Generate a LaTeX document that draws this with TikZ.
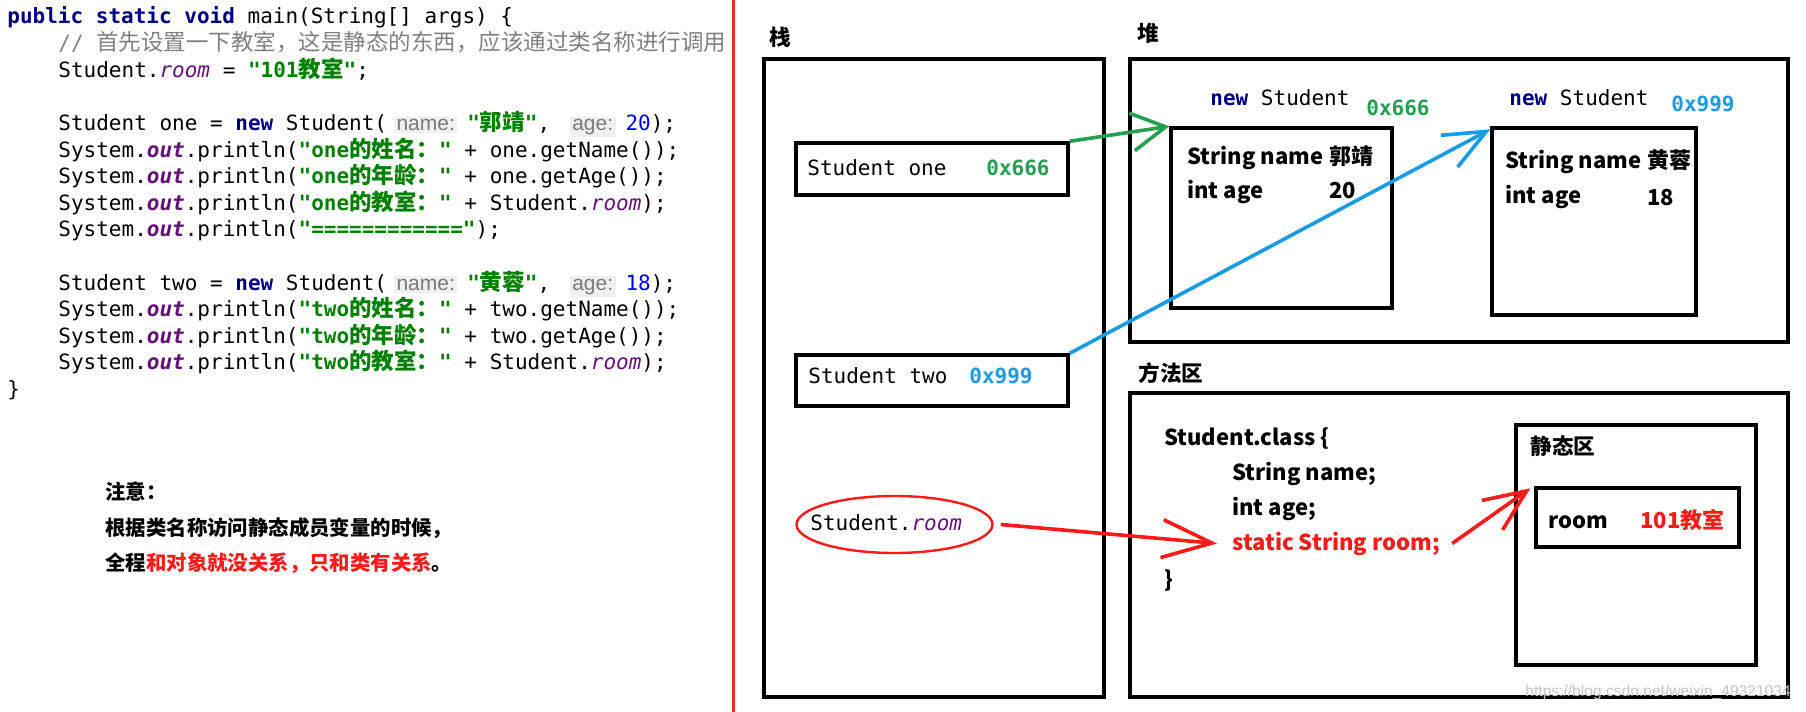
\documentclass[tikz,border=0pt]{standalone}
\usepackage{fontspec}
\setmonofont{DejaVu Sans Mono}
\newfontfamily\cjk{Noto Sans CJK SC}
\newfontfamily\hintfont{Liberation Sans}
\usetikzlibrary{arrows.meta,shapes.geometric}

\definecolor{kwnavy}{HTML}{000080}
\definecolor{strgreen}{HTML}{008000}
\definecolor{numblue}{HTML}{0000FF}
\definecolor{fieldpurple}{HTML}{660E7A}
\definecolor{commentgray}{HTML}{808080}
\definecolor{hintgray}{HTML}{7A7A7A}
\definecolor{hintbg}{HTML}{EFEFEF}
\definecolor{addrgreen}{HTML}{25A052}
\definecolor{addrblue}{HTML}{1A9BE6}
\definecolor{notered}{HTML}{FF1A1A}
\definecolor{sepred}{HTML}{EE2A2A}
\definecolor{wmgray}{HTML}{C4C4C4}

\newcommand\zhs[1]{{\cjk\fontsize{11.25}{13}\selectfont #1}}
\newcommand\jkw[1]{\textcolor{kwnavy}{\bfseries #1}}
\newcommand\jstr[1]{\textcolor{strgreen}{\bfseries #1}}
\newcommand\jnum[1]{\textcolor{numblue}{#1}}
\newcommand\jfield[1]{\textcolor{fieldpurple}{\itshape #1}}
\newcommand\jout[1]{\textcolor{fieldpurple}{\bfseries\itshape #1}}
\newcommand\jhint[1]{\hspace{3.5pt}{\setlength{\fboxsep}{1.2pt}\colorbox{hintbg}{\hintfont\fontsize{10.5}{12}\selectfont\textcolor{hintgray}{#1}}}\hspace{5pt}}

\tikzset{
    code/.style = {anchor = base west, inner sep = 0pt, font = \ttfamily\fontsize{10.5}{13}\selectfont},
    region/.style = {draw, line width = 1.7pt, inner sep = 0pt},
    areaname/.style = {anchor = west, inner sep = 0pt, font = \cjk\bfseries\fontsize{10.8}{13}\selectfont},
    field/.style = {anchor = base west, inner sep = 0pt, font = \cjk\bfseries\fontsize{11}{13}\selectfont},
    note/.style = {anchor = base west, inner sep = 0pt, font = \cjk\bfseries\fontsize{10.2}{12}\selectfont},
    ptr/.style = {line width = 1.8pt, -{Straight Barb[length = 21pt, width = 18pt]}}
}

\begin{document}
\begin{tikzpicture}[x = 0.5pt, y = -0.5pt]
    \fill[white] (0,0) rectangle (1806,712);
    \useasboundingbox (0,0) rectangle (1806,712);

    % source code on the left
    \node (l1) at (7,24) [code] {\jkw{public static void} main(String[] args) \{};
    \node (l2) at (58,50.6) [code] {\textcolor{commentgray}{// \zhs{首先设置一下教室，这是静态的东西，应该通过类名称进行调用}}};
    \node (l3) at (58,77.2) [code] {Student.\jfield{room} = \jstr{"101\zhs{教室}"};};
    \node (l5) at (58,130.4) [code] {Student one = \jkw{new} Student(\jhint{name:}\jstr{"\zhs{郭靖}"}, \jhint{age:}\jnum{20});};
    \node (l6) at (58,157) [code] {System.\jout{out}.println(\jstr{"one\zhs{的姓名：}"} + one.getName());};
    \node (l7) at (58,183.6) [code] {System.\jout{out}.println(\jstr{"one\zhs{的年龄：}"} + one.getAge());};
    \node (l8) at (58,210.2) [code] {System.\jout{out}.println(\jstr{"one\zhs{的教室：}"} + Student.\jfield{room});};
    \node (l9) at (58,236.8) [code] {System.\jout{out}.println(\jstr{"============"});};
    \node (l11) at (58,290) [code] {Student two = \jkw{new} Student(\jhint{name:}\jstr{"\zhs{黄蓉}"}, \jhint{age:}\jnum{18});};
    \node (l12) at (58,316.6) [code] {System.\jout{out}.println(\jstr{"two\zhs{的姓名：}"} + two.getName());};
    \node (l13) at (58,343.2) [code] {System.\jout{out}.println(\jstr{"two\zhs{的年龄：}"} + two.getAge());};
    \node (l14) at (58,369.8) [code] {System.\jout{out}.println(\jstr{"two\zhs{的教室：}"} + Student.\jfield{room});};
    \node (l15) at (7,396.4) [code] {\}};

    \node (n1) at (105,499) [note] {注意：};
    \node (n2) at (105,535) [note] {根据类名称访问静态成员变量的时候，};
    \node (n3) at (105,570) [note] {全程\textcolor{notered}{和对象就没关系，只和类有关系}。};

    \draw[sepred, line width = 1.5pt] (733,0) -- (733,712);

    % memory areas
    \node (stackname) at (769,37) [areaname] {栈};
    \node (heapname) at (1137,33) [areaname] {堆};
    \node (methodname) at (1138,373) [areaname] {方法区};

    \node (stack) at (934,378) [region, minimum width = 170pt, minimum height = 319pt] {};
    \node (heap) at (1459,200.5) [region, minimum width = 329pt, minimum height = 141.5pt] {};
    \node (method) at (1459,545) [region, minimum width = 329pt, minimum height = 152pt] {};

    % stack
    \node (oneref) at (932,169) [region, minimum width = 136pt, minimum height = 26pt] {};
    \node at (807,175) [code] {Student one};
    \node at (986,175) [code, text = addrgreen] {\bfseries 0x666};
    \node (tworef) at (932,380.5) [region, minimum width = 136pt, minimum height = 25.5pt] {};
    \node at (808,383) [code] {Student two};
    \node at (969,383) [code, text = addrblue] {\bfseries 0x999};
    \node (roomref) at (894.5,524.5) [ellipse, draw = notered, line width = 1.2pt, minimum width = 98pt, minimum height = 28.5pt] {};
    \node at (810,530) [code] {Student.\jfield{room}};

    % heap
    \node at (1210,105) [code] {\jkw{new} Student};
    \node at (1366,115) [code, text = addrgreen] {\bfseries 0x666};
    \node (obj1) at (1281.5,218) [region, minimum width = 110.5pt, minimum height = 90pt] {};
    \node at (1187,164) [field] {String name};
    \node at (1329,164) [field] {郭靖};
    \node at (1187,198) [field] {int age};
    \node at (1329,198) [field] {20};

    \node at (1509,105) [code] {\jkw{new} Student};
    \node at (1671,112) [code, text = addrblue] {\bfseries 0x999};
    \node (obj2) at (1594,221.5) [region, minimum width = 102pt, minimum height = 93.5pt] {};
    \node at (1505,168) [field] {String name};
    \node at (1647,168) [field] {黄蓉};
    \node at (1505,203) [field] {int age};
    \node at (1647,205) [field] {18};

    % method area
    \node at (1164,445) [field] {Student.class \{};
    \node at (1232,480) [field] {String name;};
    \node at (1232,515) [field] {int age;};
    \node (roomfield) at (1232,550) [field, text = notered] {static String room;};
    \node at (1164,587) [field] {\}};

    \node (staticarea) at (1636,545) [region, minimum width = 120pt, minimum height = 120pt] {};
    \node (staticname) at (1530,446) [areaname] {静态区};
    \node (roombox) at (1637.5,517.5) [region, minimum width = 101.5pt, minimum height = 29.5pt] {};
    \node at (1548,528) [field] {room};
    \node at (1640,528) [field, text = notered] {101教室};

    % references
    \draw[ptr, addrgreen, -{Straight Barb[length = 17pt, width = 19pt]}] (oneref.north east) -- (obj1.north west);
    \draw[ptr, addrblue] (tworef.north east) -- ([yshift = -1.5pt]obj2.north west);
    \draw[ptr, notered, -{Straight Barb[length = 25pt, width = 19pt]}] ([xshift = 3.5pt]roomref.east) -- ([xshift = -7.5pt]roomfield.west);
    \draw[ptr, notered] ([xshift = 6pt]roomfield.east) -- ([shift = {(-2pt,-1pt)}]roombox.north west);

    \node at (1525,696) [anchor = base west, inner sep = 0pt, text = wmgray, font = \hintfont\fontsize{7.8}{9}\selectfont] {https://blog.csdn.net/weixin\_49321034};
\end{tikzpicture}
\end{document}
